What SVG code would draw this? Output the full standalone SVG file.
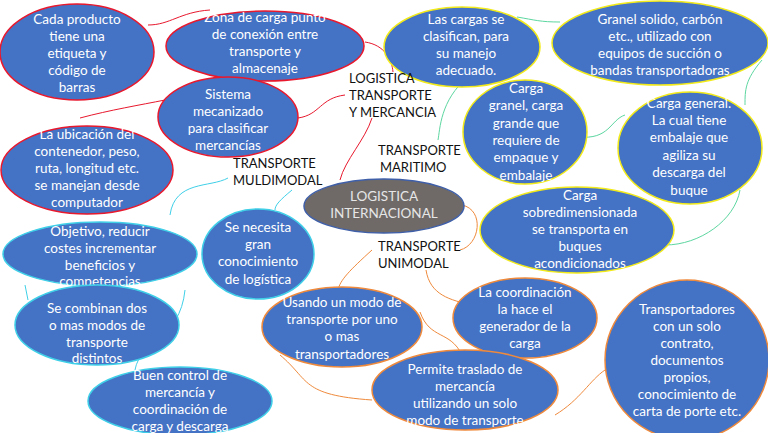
<svg xmlns="http://www.w3.org/2000/svg" width="768" height="433" viewBox="0 0 768 433">
<style>
.n{fill:#4472c4;stroke-width:1.5}
.r{stroke:#e8182d}.c{stroke:#3fd0e8}.o{stroke:#ef8a3c}.y{stroke:#f2ea1a}
.t{font-family:Lato,"Open Sans",sans-serif;font-size:13.5px;fill:#fff;text-anchor:middle}
.b{font-family:Lato,"Open Sans",sans-serif;font-size:13px;fill:#111}
#conn path{fill:none;stroke-width:1}
</style>
<rect width="768" height="433" fill="#fff"/>
<g id="conn">
<path d="M148 25 C170 25 180 12 210 10" stroke="#e8182d"/>
<path d="M365 42 C385 45 392 60 393 72" stroke="#e8182d"/>
<path d="M298 118 C320 115 320 98 345 95" stroke="#e8182d"/>
<path d="M165 100 C140 105 110 110 80 118" stroke="#e8182d"/>
<path d="M372 118 C365 140 345 160 340 180" stroke="#e8182d"/>
<path d="M228 178 C210 188 175 180 170 215" stroke="#3fd0e8"/>
<path d="M292 190 C280 200 275 205 275 210" stroke="#3fd0e8"/>
<path d="M25 285 L28 300" stroke="#3fd0e8"/>
<path d="M185 290 C180 340 140 340 135 370" stroke="#3fd0e8"/>
<path d="M468 77 C440 100 440 130 438 140" stroke="#5cd6a0"/>
<path d="M517 17 C535 20 540 22 560 22" stroke="#5cd6a0"/>
<path d="M578 137 C610 140 610 120 625 115" stroke="#5cd6a0"/>
<path d="M762 60 C745 80 745 90 745 105" stroke="#5cd6a0"/>
<path d="M740 190 C735 220 700 245 665 245 C650 245 640 255 637 262" stroke="#5cd6a0"/>
<path d="M462 205 C485 210 480 245 460 250" stroke="#ef8a3c"/>
<path d="M372 250 C350 270 340 280 338 290" stroke="#ef8a3c"/>
<path d="M420 312 C430 340 450 330 462 355" stroke="#ef8a3c"/>
<path d="M426 270 C430 295 450 300 472 305" stroke="#ef8a3c"/>
<path d="M280 355 C310 380 300 395 372 400" stroke="#ef8a3c"/>
<path d="M555 415 C580 400 590 380 605 370" stroke="#ef8a3c"/>
</g>
<g id="n1"><ellipse class="n r" cx="77" cy="52" rx="77" ry="48"/><text class="t"><tspan x="77" y="24">Cada producto</tspan><tspan x="77" y="41">tiene una</tspan><tspan x="77" y="58">etiqueta y</tspan><tspan x="77" y="75">código de</tspan><tspan x="77" y="92">barras</tspan></text></g>
<g id="n2"><ellipse class="n r" cx="265" cy="46" rx="99" ry="35"/><text class="t"><tspan x="265" y="22">Zona de carga punto</tspan><tspan x="265" y="39">de conexión entre</tspan><tspan x="265" y="56">transporte y</tspan><tspan x="265" y="73">almacenaje</tspan></text></g>
<g id="n3"><ellipse class="n r" cx="228" cy="117" rx="70" ry="40"/><text class="t"><tspan x="228" y="99">Sistema</tspan><tspan x="228" y="116">mecanizado</tspan><tspan x="228" y="133">para clasificar</tspan><tspan x="228" y="150">mercancías</tspan></text></g>
<g id="n4"><ellipse class="n r" cx="87" cy="170" rx="86" ry="44"/><text class="t"><tspan x="87" y="139">La ubicación del</tspan><tspan x="87" y="156">contenedor, peso,</tspan><tspan x="87" y="173">ruta, longitud etc.</tspan><tspan x="87" y="190">se manejan desde</tspan><tspan x="87" y="207">computador</tspan></text></g>
<g id="n5"><ellipse class="n c" cx="100" cy="254" rx="97" ry="32"/><text class="t"><tspan x="100" y="236">Objetivo, reducir</tspan><tspan x="100" y="253">costes incrementar</tspan><tspan x="100" y="270">beneficios y</tspan><tspan x="100" y="286">competencias</tspan></text></g>
<g id="n6"><ellipse class="n c" cx="258" cy="254" rx="56" ry="45"/><text class="t"><tspan x="258" y="232">Se necesita</tspan><tspan x="258" y="249">gran</tspan><tspan x="258" y="266">conocimiento</tspan><tspan x="258" y="284">de logística</tspan></text></g>
<g id="n7"><ellipse class="n c" cx="97" cy="325" rx="82" ry="40"/><text class="t"><tspan x="97" y="313">Se combinan dos</tspan><tspan x="97" y="330">o mas modos de</tspan><tspan x="97" y="347">transporte</tspan><tspan x="97" y="363">distintos</tspan></text></g>
<g id="n8"><ellipse class="n c" cx="180" cy="401" rx="92" ry="34"/><text class="t"><tspan x="180" y="380">Buen control de</tspan><tspan x="180" y="397">mercancía y</tspan><tspan x="180" y="414">coordinación de</tspan><tspan x="180" y="431">carga y descarga</tspan></text></g>
<g id="n9"><ellipse class="n o" cx="342" cy="327" rx="80" ry="40"/><text class="t"><tspan x="342" y="307">Usando un modo de</tspan><tspan x="342" y="324">transporte por uno</tspan><tspan x="342" y="341">o mas</tspan><tspan x="342" y="359">transportadores</tspan></text></g>
<g id="n10"><ellipse class="n o" cx="525" cy="318" rx="72" ry="40"/><text class="t"><tspan x="525" y="297">La coordinación</tspan><tspan x="525" y="314">la hace el</tspan><tspan x="525" y="331">generador de la</tspan><tspan x="525" y="348">carga</tspan></text></g>
<g id="n11"><ellipse class="n o" cx="465" cy="390" rx="93" ry="40"/><text class="t"><tspan x="465" y="374">Permite traslado de</tspan><tspan x="465" y="391">mercancía</tspan><tspan x="465" y="408">utilizando un solo</tspan><tspan x="465" y="425">modo de transporte</tspan></text></g>
<g id="n12"><ellipse class="n o" cx="687" cy="360" rx="82" ry="80"/><text class="t"><tspan x="687" y="314">Transportadores</tspan><tspan x="687" y="331">con un solo</tspan><tspan x="687" y="348">contrato,</tspan><tspan x="687" y="365">documentos</tspan><tspan x="687" y="382">propios,</tspan><tspan x="687" y="399">conocimiento de</tspan><tspan x="687" y="416">carta de porte etc.</tspan></text></g>
<g id="n13"><ellipse class="n y" cx="462" cy="47" rx="78" ry="40"/><text class="t"><tspan x="466" y="24">Las cargas se</tspan><tspan x="466" y="41">clasifican, para</tspan><tspan x="466" y="58">su manejo</tspan><tspan x="466" y="75">adecuado.</tspan></text></g>
<g id="n14"><ellipse class="n y" cx="660" cy="43" rx="108" ry="42"/><text class="t"><tspan x="660" y="24">Granel solido, carbón</tspan><tspan x="660" y="41">etc., utilizado con</tspan><tspan x="660" y="58">equipos de succión o</tspan><tspan x="660" y="75">bandas transportadoras</tspan></text></g>
<g id="n15"><ellipse class="n y" cx="525" cy="132" rx="62" ry="52"/><text class="t"><tspan x="526" y="93">Carga</tspan><tspan x="526" y="110">granel, carga</tspan><tspan x="526" y="128">grande que</tspan><tspan x="526" y="145">requiere de</tspan><tspan x="526" y="162">empaque y</tspan><tspan x="526" y="180">embalaje</tspan></text></g>
<g id="n16"><ellipse class="n y" cx="690" cy="148" rx="72" ry="56"/><text class="t"><tspan x="689" y="108">Carga general.</tspan><tspan x="689" y="125">La cual tiene</tspan><tspan x="689" y="142">embalaje que</tspan><tspan x="689" y="160">agiliza su</tspan><tspan x="689" y="177">descarga del</tspan><tspan x="689" y="195">buque</tspan></text></g>
<g id="n17"><ellipse class="n y" cx="577" cy="230" rx="97" ry="43"/><text class="t"><tspan x="580" y="200">Carga</tspan><tspan x="580" y="217">sobredimensionada</tspan><tspan x="580" y="234">se transporta en</tspan><tspan x="580" y="251">buques</tspan><tspan x="580" y="268">acondicionados</tspan></text></g>
<g id="center"><ellipse cx="384" cy="206" rx="80" ry="27" fill="#6f6a68" stroke="#3f5fa8" stroke-width="1.5"/><text class="t" style="fill:#e6e6e6"><tspan x="384" y="201">LOGISTICA</tspan><tspan x="384" y="218">INTERNACIONAL</tspan></text></g>
<g id="labels">
<text class="b"><tspan x="349" y="83">LOGISTICA</tspan><tspan x="349" y="100">TRANSPORTE</tspan><tspan x="349" y="117">Y MERCANCIA</tspan></text>
<text class="b"><tspan x="378" y="155">TRANSPORTE</tspan><tspan x="380" y="172">MARITIMO</tspan></text>
<text class="b"><tspan x="233" y="168">TRANSPORTE</tspan><tspan x="233" y="185">MULDIMODAL</tspan></text>
<text class="b"><tspan x="378" y="251">TRANSPORTE</tspan><tspan x="378" y="268">UNIMODAL</tspan></text>
</g>
</svg>
